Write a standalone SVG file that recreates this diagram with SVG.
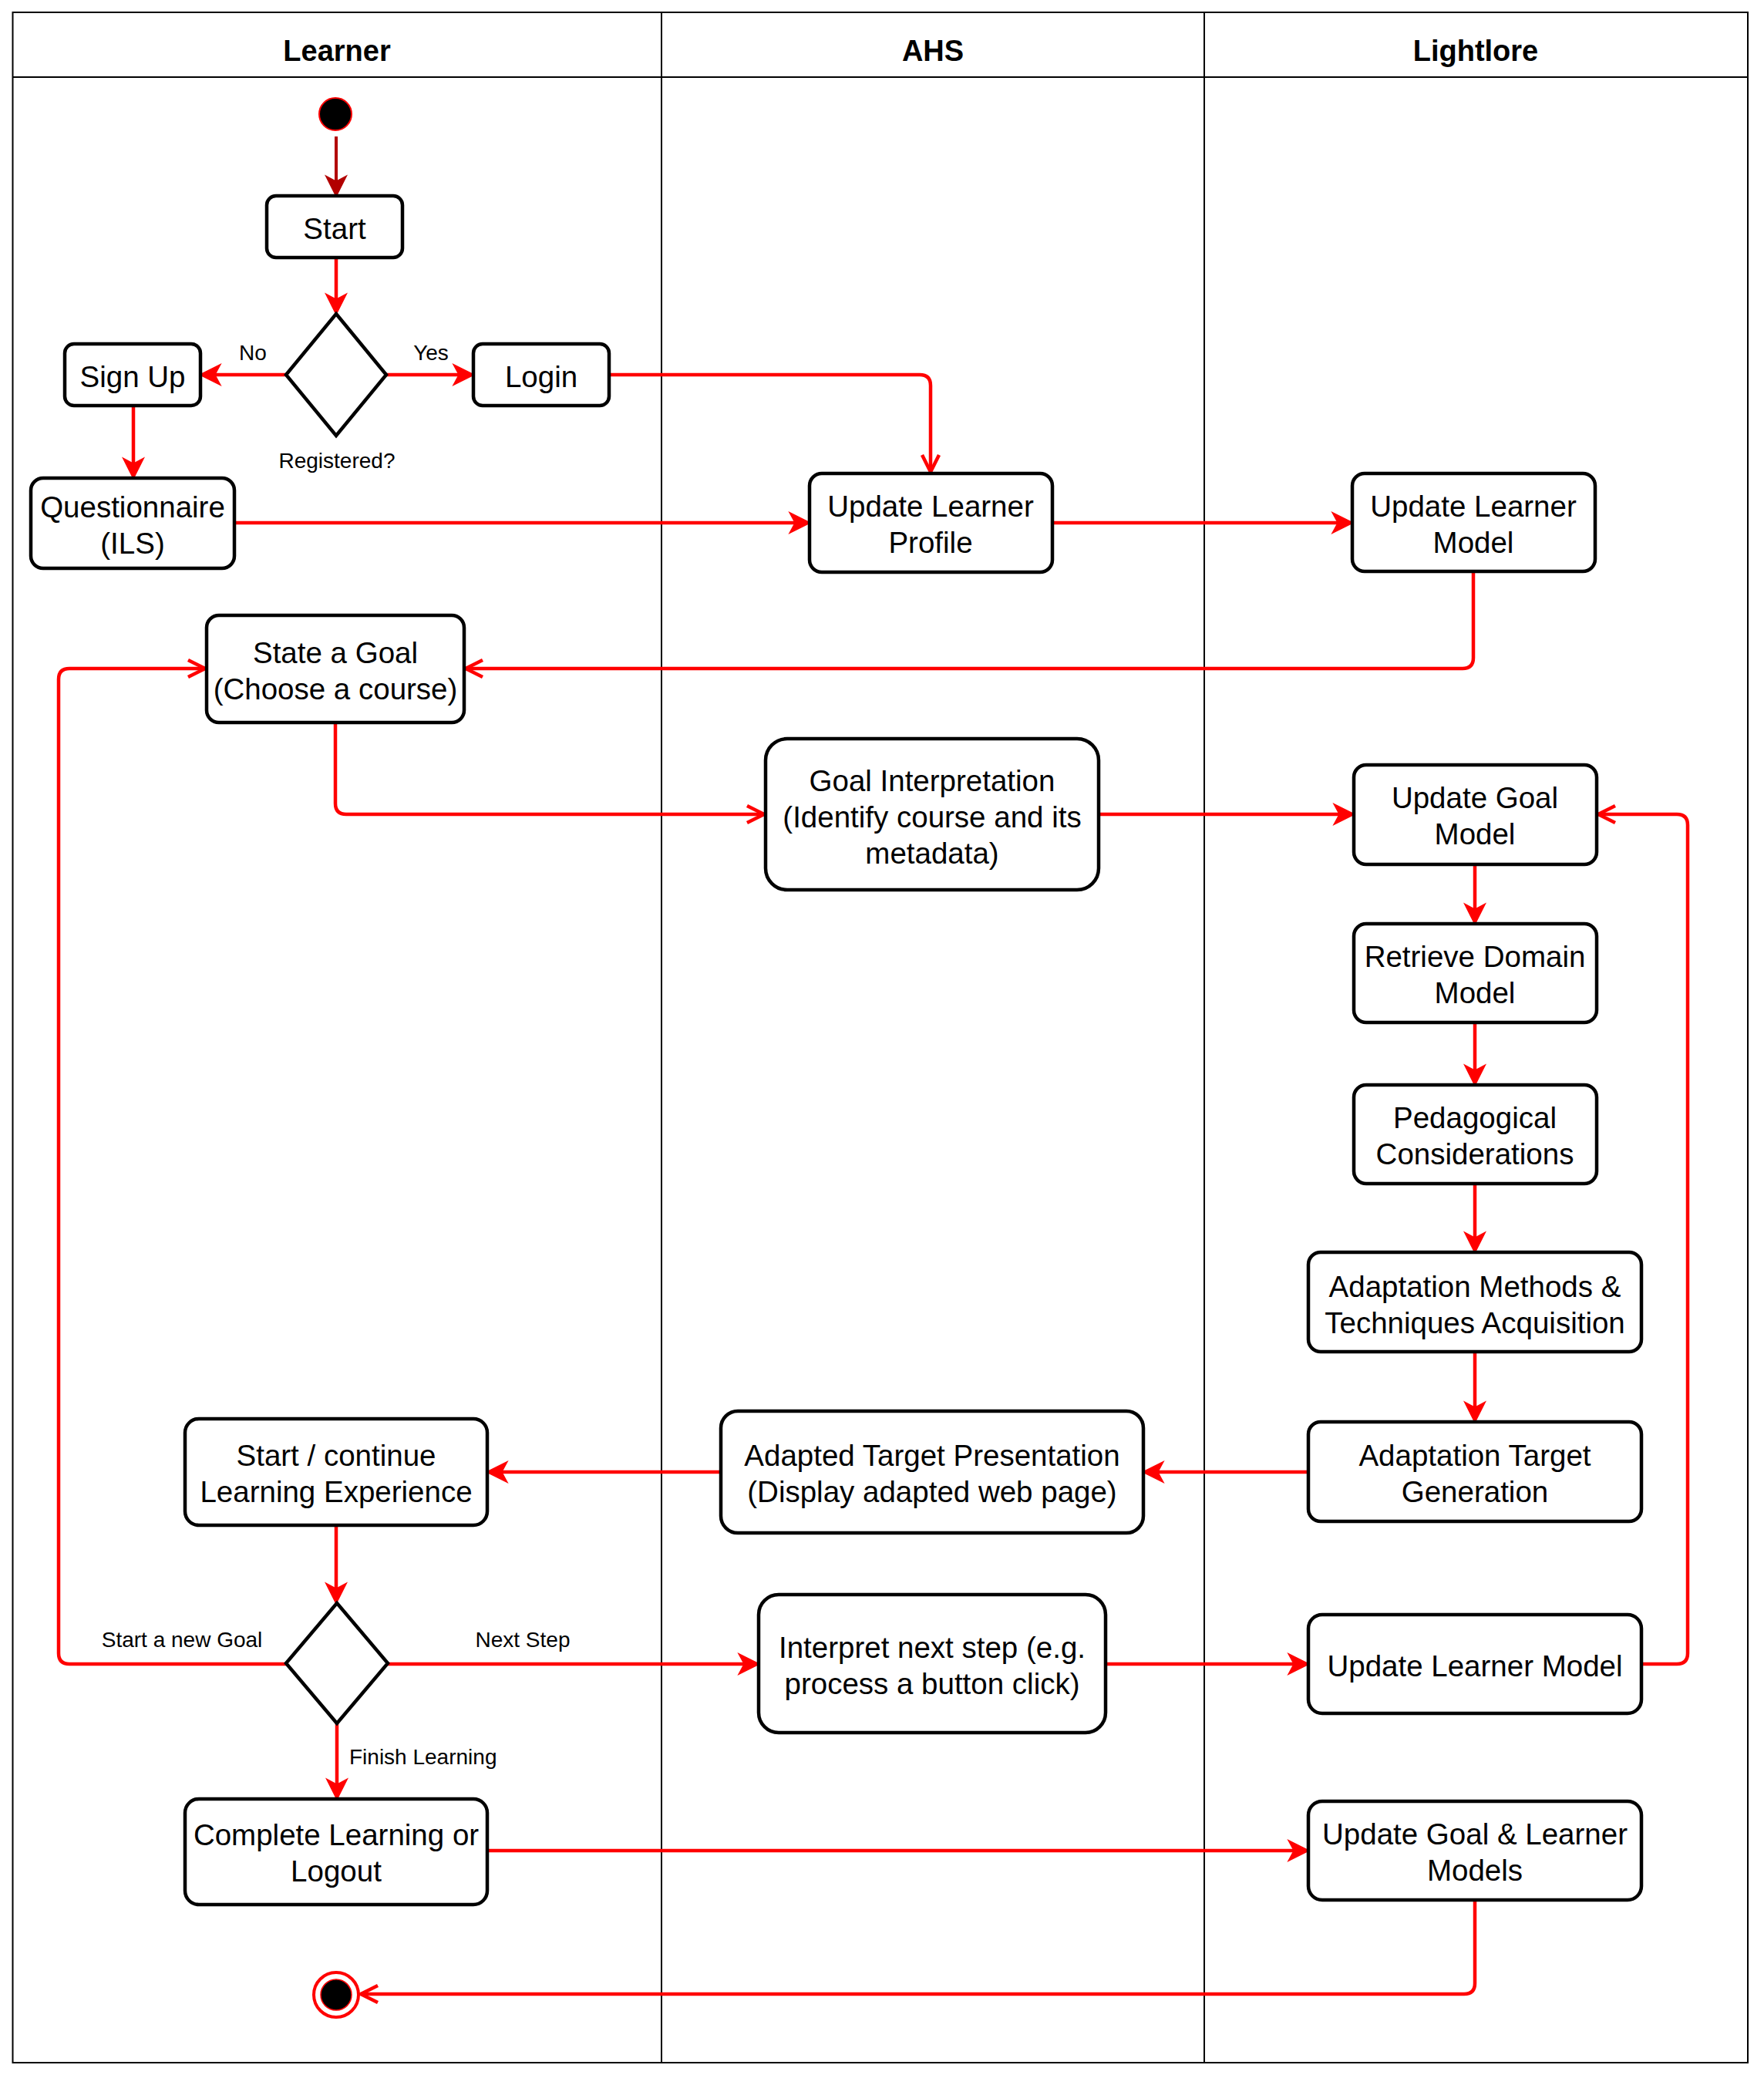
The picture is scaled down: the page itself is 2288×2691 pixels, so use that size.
<svg xmlns="http://www.w3.org/2000/svg" width="2288" height="2691" viewBox="0 0 2288 2691">
<style>
.lane{fill:none;stroke:#000;stroke-width:2}
.hdr{font-family:"Liberation Sans",Arial,sans-serif;font-weight:bold;font-size:38px;text-anchor:middle;fill:#000}
.box{fill:#fff;stroke:#000;stroke-width:4.5}
.dia{fill:#fff;stroke:#000;stroke-width:4.5;stroke-linejoin:miter}
.t{font-family:"Liberation Sans",Arial,sans-serif;font-size:38.5px;text-anchor:middle;fill:#000}
.lbl{font-family:"Liberation Sans",Arial,sans-serif;font-size:28px;fill:#000}
.cf{fill:none;stroke:#ff0000;stroke-width:4.5;marker-end:url(#af)}
.co{fill:none;stroke:#ff0000;stroke-width:4.5;marker-end:url(#ao)}
</style>
<defs>
<marker id="af" markerUnits="userSpaceOnUse" markerWidth="30" markerHeight="30" viewBox="0 0 26 26" refX="17" refY="13" orient="auto">
<path d="M0,0 L26,13 L0,26 L7,13 Z" fill="#ff0000"/>
</marker>
<marker id="ad" markerUnits="userSpaceOnUse" markerWidth="30" markerHeight="30" viewBox="0 0 26 26" refX="17" refY="13" orient="auto">
<path d="M0,0 L26,13 L0,26 L7,13 Z" fill="#b20000"/>
</marker>
<marker id="ao" markerUnits="userSpaceOnUse" markerWidth="34" markerHeight="34" viewBox="-4 -4 34 34" refX="23" refY="12" orient="auto">
<path d="M1,1 L23,12 L1,23" fill="none" stroke="#ff0000" stroke-width="4.5"/>
</marker>
</defs>
<rect width="2288" height="2691" fill="#fff"/>
<g id="swimlanes">
<rect class="lane" x="16.5" y="16" width="2250.5" height="2659"/>
<line class="lane" x1="16.5" y1="100" x2="2267" y2="100"/>
<line class="lane" x1="858" y1="16" x2="858" y2="2675"/>
<line class="lane" x1="1562" y1="16" x2="1562" y2="2675"/>
<text class="hdr" x="437" y="79">Learner</text>
<text class="hdr" x="1210" y="79">AHS</text>
<text class="hdr" x="1914" y="79">Lightlore</text>
</g>
<g id="connectors">
<path d="M436,177 L436,246" fill="none" stroke="#b20000" stroke-width="4" marker-end="url(#ad)"/>
<path class="cf" d="M436,334 L436,399"/>
<path class="cf" d="M371,486 L268,486"/>
<path class="cf" d="M501,486 L606,486"/>
<path class="cf" d="M173,526 L173,612"/>
<path class="co" d="M790,486 L1193,486 Q1207,486 1207,500 L1207,612"/>
<path class="cf" d="M304,678 L1042,678"/>
<path class="cf" d="M1365,678 L1746,678"/>
<path class="co" d="M1911,741 L1911,853 Q1911,867 1897,867 L604,867"/>
<path class="co" d="M435,937 L435,1042 Q435,1056 449,1056 L991,1056"/>
<path class="cf" d="M1425,1056 L1748,1056"/>
<path class="cf" d="M1913,1121 L1913,1190"/>
<path class="cf" d="M1913,1326 L1913,1399"/>
<path class="cf" d="M1913,1535 L1913,1616"/>
<path class="cf" d="M1913,1753 L1913,1836"/>
<path class="cf" d="M1697,1909 L1491,1909"/>
<path class="cf" d="M935,1909 L640,1909"/>
<path class="cf" d="M436,1978 L436,2071"/>
<path class="co" d="M371,2158 L90,2158 Q76,2158 76,2144 L76,881 Q76,867 90,867 L266,867"/>
<path class="cf" d="M503,2158 L976,2158"/>
<path class="cf" d="M437,2235 L437,2325"/>
<path class="cf" d="M1434,2158 L1689,2158"/>
<path class="co" d="M2129,2158 L2175,2158 Q2189,2158 2189,2144 L2189,1070 Q2189,1056 2175,1056 L2073,1056"/>
<path class="cf" d="M632,2400 L1689,2400"/>
<path class="co" d="M1913,2464 L1913,2572 Q1913,2586 1899,2586 L468,2586"/>
<text class="lbl" x="328" y="467" text-anchor="middle">No</text>
<text class="lbl" x="559" y="467" text-anchor="middle">Yes</text>
<text class="lbl" x="236" y="2136" text-anchor="middle">Start a new Goal</text>
<text class="lbl" x="678" y="2136" text-anchor="middle">Next Step</text>
<text class="lbl" x="453" y="2288">Finish Learning</text>
</g>
<g id="initial">
<circle cx="435" cy="148" r="21" fill="#000" stroke="#ff0000" stroke-width="2"/>
</g>
<g id="start">
<rect class="box" x="346" y="254" width="176" height="80" rx="12"/>
<text class="t" x="434" y="310">Start</text>
</g>
<g id="registered">
<polygon class="dia" points="436,407 501,486 436,565 371,486"/>
<text class="lbl" x="437" y="607" text-anchor="middle">Registered?</text>
</g>
<g id="signup">
<rect class="box" x="84" y="446" width="176" height="80" rx="12"/>
<text class="t" x="172" y="502">Sign Up</text>
</g>
<g id="login">
<rect class="box" x="614" y="446" width="176" height="80" rx="12"/>
<text class="t" x="702" y="502">Login</text>
</g>
<g id="questionnaire">
<rect class="box" x="40" y="620" width="264" height="117" rx="16"/>
<text class="t" x="172" y="671">Questionnaire</text>
<text class="t" x="172" y="718">(ILS)</text>
</g>
<g id="update-learner-profile">
<rect class="box" x="1050" y="614" width="315" height="128" rx="16"/>
<text class="t" x="1207" y="670">Update Learner</text>
<text class="t" x="1207" y="717">Profile</text>
</g>
<g id="update-learner-model-1">
<rect class="box" x="1754" y="614" width="315" height="127" rx="16"/>
<text class="t" x="1911" y="670">Update Learner</text>
<text class="t" x="1911" y="717">Model</text>
</g>
<g id="state-goal">
<rect class="box" x="268" y="798" width="334" height="139" rx="16"/>
<text class="t" x="435" y="860">State a Goal</text>
<text class="t" x="435" y="907">(Choose a course)</text>
</g>
<g id="goal-interpretation">
<rect class="box" x="993" y="958" width="432" height="196" rx="28"/>
<text class="t" x="1209" y="1026">Goal Interpretation</text>
<text class="t" x="1209" y="1073">(Identify course and its</text>
<text class="t" x="1209" y="1120">metadata)</text>
</g>
<g id="update-goal-model">
<rect class="box" x="1756" y="992" width="315" height="129" rx="16"/>
<text class="t" x="1913" y="1048">Update Goal</text>
<text class="t" x="1913" y="1095">Model</text>
</g>
<g id="retrieve-domain">
<rect class="box" x="1756" y="1198" width="315" height="128" rx="16"/>
<text class="t" x="1913" y="1254">Retrieve Domain</text>
<text class="t" x="1913" y="1301">Model</text>
</g>
<g id="pedagogical">
<rect class="box" x="1756" y="1407" width="315" height="128" rx="16"/>
<text class="t" x="1913" y="1463">Pedagogical</text>
<text class="t" x="1913" y="1510">Considerations</text>
</g>
<g id="adaptation-methods">
<rect class="box" x="1697" y="1624" width="432" height="129" rx="16"/>
<text class="t" x="1913" y="1682">Adaptation Methods &amp;</text>
<text class="t" x="1913" y="1729">Techniques Acquisition</text>
</g>
<g id="adaptation-target">
<rect class="box" x="1697" y="1844" width="432" height="129" rx="16"/>
<text class="t" x="1913" y="1901">Adaptation Target</text>
<text class="t" x="1913" y="1948">Generation</text>
</g>
<g id="adapted-presentation">
<rect class="box" x="935" y="1830" width="548" height="158" rx="22"/>
<text class="t" x="1209" y="1901">Adapted Target Presentation</text>
<text class="t" x="1209" y="1948">(Display adapted web page)</text>
</g>
<g id="start-continue">
<rect class="box" x="240" y="1840" width="392" height="138" rx="18"/>
<text class="t" x="436" y="1901">Start / continue</text>
<text class="t" x="436" y="1948">Learning Experience</text>
</g>
<g id="decision">
<polygon class="dia" points="437,2079 503,2157 437,2235 371,2157"/>
</g>
<g id="interpret-next">
<rect class="box" x="984" y="2068" width="450" height="179" rx="26"/>
<text class="t" x="1209" y="2150">Interpret next step (e.g.</text>
<text class="t" x="1209" y="2197">process a button click)</text>
</g>
<g id="update-learner-model-2">
<rect class="box" x="1697" y="2094" width="432" height="128" rx="18"/>
<text class="t" x="1913" y="2174">Update Learner Model</text>
</g>
<g id="complete">
<rect class="box" x="240" y="2333" width="392" height="137" rx="18"/>
<text class="t" x="436" y="2393">Complete Learning or</text>
<text class="t" x="436" y="2440">Logout</text>
</g>
<g id="update-goal-learner">
<rect class="box" x="1697" y="2336" width="432" height="128" rx="18"/>
<text class="t" x="1913" y="2392">Update Goal &amp; Learner</text>
<text class="t" x="1913" y="2439">Models</text>
</g>
<g id="final">
<circle cx="436" cy="2587" r="29" fill="#fff" stroke="#ff0000" stroke-width="4"/>
<circle cx="436" cy="2587" r="20" fill="#000" stroke="#ff0000" stroke-width="1.5"/>
</g>
</svg>
